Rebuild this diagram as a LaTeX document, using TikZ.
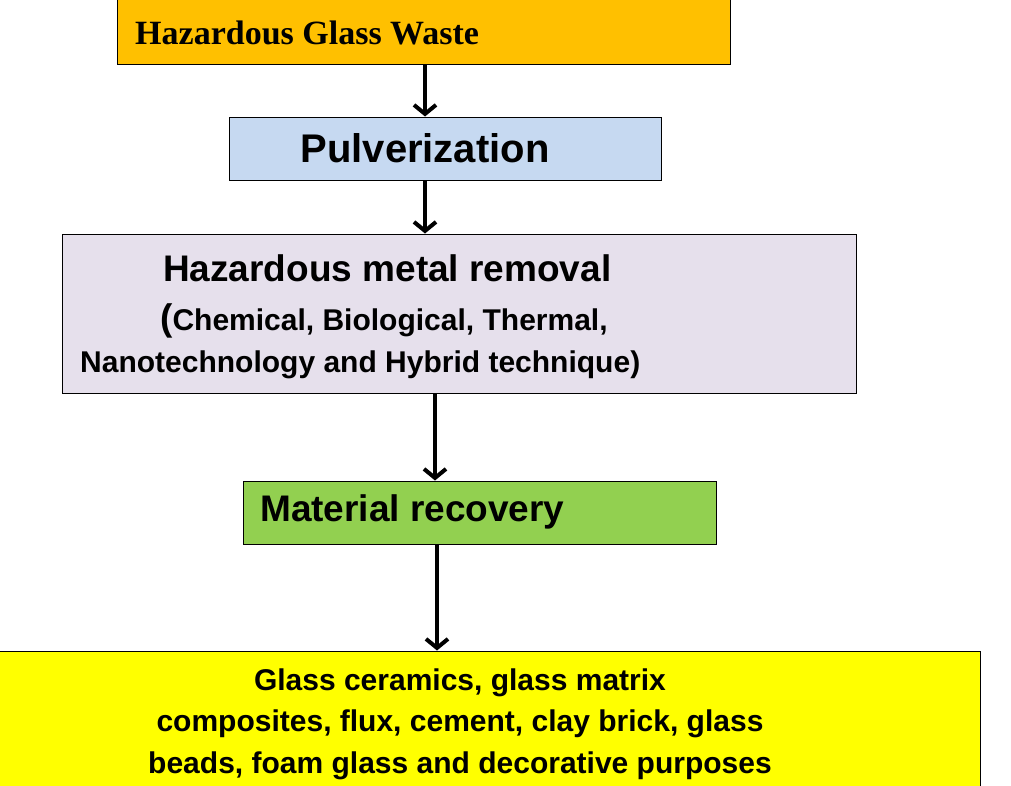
\documentclass[tikz,border=0pt]{standalone}
\usepackage{fontspec}
\setmainfont{Liberation Serif}
\setsansfont{Liberation Sans}
\usetikzlibrary{arrows.meta}
\definecolor{wasteorange}{HTML}{FFC000}
\definecolor{pulvblue}{HTML}{C6D9F1}
\definecolor{removlilac}{HTML}{E6E0EC}
\definecolor{recovgreen}{HTML}{92D050}
\definecolor{useyellow}{HTML}{FFFF00}
\begin{document}
\begin{tikzpicture}[x=1pt,y=-1pt]
      \tikzstyle{box}=[rectangle,draw=black,line width=1pt,inner sep=0pt]
      \tikzstyle{edge}=[-{Straight Barb[length=9pt,width=22pt]}, line width=4pt]
      \tikzstyle{lbl}=[inner sep=0pt,font=\sffamily\bfseries]
      \useasboundingbox (0,0) rectangle (1011,785);
      \node[box,fill=wasteorange,minimum width=613pt,minimum height=72pt] (waste) at (423.5,28) {};
      \node[box,fill=pulvblue,minimum width=432pt,minimum height=63pt] (pulv) at (445,148.5) {};
      \node[box,fill=removlilac,minimum width=794pt,minimum height=159pt] (remov) at (459,313.5) {};
      \node[box,fill=recovgreen,minimum width=473pt,minimum height=63pt] (recov) at (479.5,512.5) {};
      \node[box,fill=useyellow,minimum width=990pt,minimum height=150pt] (use) at (485,726) {};
      \node[inner sep=0pt,anchor=west,font=\rmfamily\bfseries\fontsize{34}{40}\selectfont] (wastetxt) at (135,33) {Hazardous Glass Waste};
      \node[lbl,font=\sffamily\bfseries\fontsize{40}{46}\selectfont] (pulvtxt) at (425,148) {Pulverization};
      \node[lbl,anchor=west,font=\sffamily\bfseries\fontsize{37}{42}\selectfont] (remova) at (163,268) {Hazardous metal removal};
      \node[lbl,anchor=west,font=\sffamily\bfseries\fontsize{30}{36}\selectfont] (removb) at (160,321) {{\fontsize{37}{42}\selectfont(}Chemical, Biological, Thermal,};
      \node[lbl,anchor=west,font=\sffamily\bfseries\fontsize{30}{36}\selectfont] (removc) at (80,365) {Nanotechnology and Hybrid technique)};
      \node[lbl,anchor=west,font=\sffamily\bfseries\fontsize{37}{42}\selectfont] (recovtxt) at (260,512) {Material recovery};
      \node[lbl,align=center,font=\sffamily\bfseries\fontsize{30}{41.5}\selectfont] (usetxt) at (460,724) {Glass ceramics, glass matrix\\composites, flux, cement, clay brick, glass\\beads, foam glass and decorative purposes};
      \coordinate (ax1) at (425,0);
      \coordinate (ax2) at (435,0);
      \coordinate (ax3) at (437,0);
      \draw[edge] (waste.south -| ax1) -- (pulv.north -| ax1);
      \draw[edge] (pulv.south -| ax1) -- (remov.north -| ax1);
      \draw[edge] (remov.south -| ax2) -- (recov.north -| ax2);
      \draw[edge] (recov.south -| ax3) -- (use.north -| ax3);
\end{tikzpicture}
\end{document}
